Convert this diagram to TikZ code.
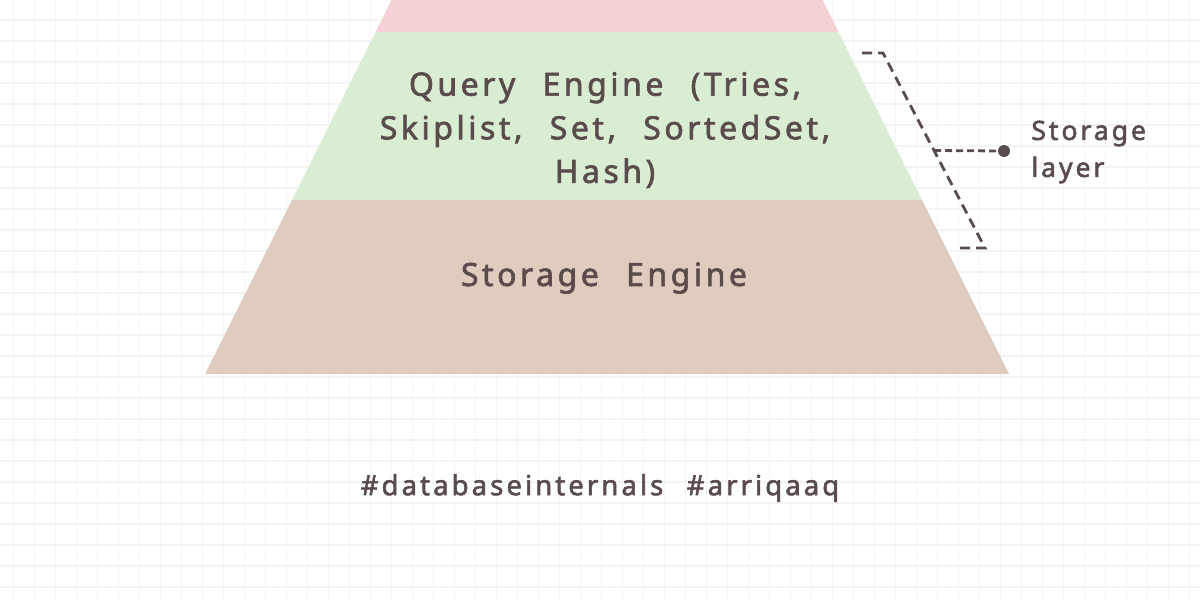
\documentclass[tikz,border=0pt]{standalone}
\usepackage{fontspec}
\newfontfamily\handfont[LetterSpace=11,WordSpace=2.3,FakeBold=2]{Noto Sans}
\usetikzlibrary{positioning,calc}

\definecolor{ink}{RGB}{90,75,76}
\definecolor{gridgray}{RGB}{243,243,244}
\definecolor{pinklayer}{RGB}{242,208,211}
\definecolor{greenlayer}{RGB}{217,237,211}
\definecolor{brownlayer}{RGB}{224,204,191}

\begin{document}
\begin{tikzpicture}[x=0.5pt,y=-0.5pt,
    gridline/.style={draw=gridgray, line width=0.6pt},
    layer/.style={fill=#1, draw=none},
    lbl/.style={text=ink, font=\handfont\fontsize{16}{21.8}\selectfont, align=center, inner sep=0pt},
    brk/.style={draw=ink, line width=1.4pt, dash pattern=on 5pt off 3pt}]
      \useasboundingbox (0,0) rectangle (1200,600);
      \fill[white] (0,0) rectangle (1200,600);
      % background grid
      \foreach \gx in {0,...,56}
        \draw[gridline] ({13.3+21*\gx},0) -- ++(0,600);
      \foreach \gy in {0,...,27}
        \draw[gridline] (0,{20+21*\gy}) -- ++(1200,0);
      % pyramid layers
      \coordinate (t0l) at (391.5,0);   \coordinate (t0r) at (822.5,0);
      \coordinate (t1l) at (375.5,32);  \coordinate (t1r) at (838.5,32);
      \coordinate (t2l) at (292,200);   \coordinate (t2r) at (922,200);
      \coordinate (t3l) at (205,374);   \coordinate (t3r) at (1009,374);
      \fill[layer=pinklayer] (t0l) -- (t0r) -- (t1r) -- (t1l) -- cycle;
      \fill[layer=greenlayer] (t1l) -- (t1r) -- (t2r) -- (t2l) -- cycle;
      \fill[layer=brownlayer] (t2l) -- (t2r) -- (t3r) -- (t3l) -- cycle;
      \node[lbl] (query) at (605,130) {Query Engine (Tries,\\Skiplist, Set, SortedSet,\\Hash)};
      \node[lbl] (storage) at (604,278) {Storage Engine};
      % storage layer bracket
      \coordinate (bt) at (862,53);
      \coordinate (btc) at (883,53);
      \coordinate (bbc) at (985,248);
      \coordinate (bb) at (960,248);
      \draw[brk] (bt) -- (btc) -- (bbc) -- (bb);
      \coordinate (bmid) at ($(btc)!0.5!(bbc)$);
      \node[circle, fill=ink, inner sep=0pt, minimum size=6pt] (dot) at (1004,151) {};
      \draw[brk, dash pattern=on 3.5pt off 2pt] (bmid) -- (dot);
      \node[lbl, font=\handfont\fontsize{13.3}{18.5}\selectfont, align=left, anchor=west] (layer) at (1031,152) {Storage\\layer};
      \node[lbl, font=\handfont\fontsize{13.8}{20}\selectfont] (tags) at (600,488) {\#databaseinternals \#arriqaaq};
\end{tikzpicture}
\end{document}
